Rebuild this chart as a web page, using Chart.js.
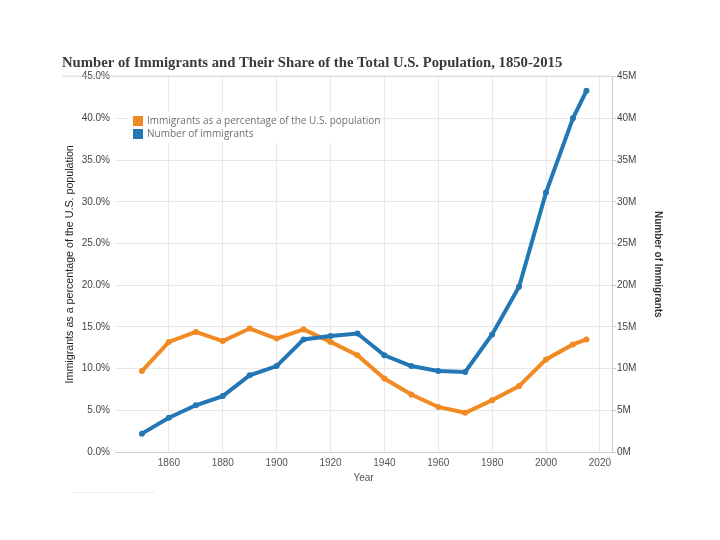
<!DOCTYPE html>
<html>
<head>
<meta charset="utf-8">
<script src="https://cdn.jsdelivr.net/npm/chart.js@4"></script>
<style>
  html, body { margin: 0; padding: 0; background: #fff; }
  #wrap { width: 720px; height: 540px; }
</style>
</head>
<body>
<div id="wrap"><canvas id="myChart" width="720" height="540"></canvas></div>
<script>
const years = [1850, 1860, 1870, 1880, 1890, 1900, 1910, 1920, 1930, 1940, 1950, 1960, 1970, 1980, 1990, 2000, 2010, 2015];
// share of total population, %
const pctValues = [9.7, 13.2, 14.4, 13.3, 14.8, 13.6, 14.7, 13.2, 11.6, 8.8, 6.9, 5.4, 4.7, 6.2, 7.9, 11.1, 12.9, 13.5];
// number of immigrants, millions
const countValues = [2.2, 4.1, 5.6, 6.7, 9.2, 10.3, 13.5, 13.9, 14.2, 11.6, 10.3, 9.7, 9.6, 14.1, 19.8, 31.1, 40.0, 43.3];
const yearTicks = [1860, 1880, 1900, 1920, 1940, 1960, 1980, 2000, 2020];

const ORANGE = '#f28a24';
const BLUE = '#2277b4';

const toPoints = (vals) => years.map((y, i) => ({x: y, y: vals[i]}));

// title underline + small footer rule
const decor = {
  id: 'decor',
  afterDraw(chart) {
    const ctx = chart.ctx;
    ctx.save();
    ctx.strokeStyle = '#d6d6d6';
    ctx.lineWidth = 1;
    ctx.beginPath();
    ctx.moveTo(62, chart.chartArea.top - 0.5);
    ctx.lineTo(chart.chartArea.right, chart.chartArea.top - 0.5);
    ctx.stroke();
    ctx.strokeStyle = '#eeeeee';
    ctx.beginPath();
    ctx.moveTo(72, 492.5);
    ctx.lineTo(155, 492.5);
    ctx.stroke();
    ctx.restore();
  }
};

// legend box inside the plot, orange first
const boxLegend = {
  id: 'boxLegend',
  afterDraw(chart) {
    const ctx = chart.ctx;
    const items = [chart.data.datasets[0], chart.data.datasets[1]];
    ctx.save();
    ctx.fillStyle = '#ffffff';
    ctx.fillRect(128, 112, 246, 31);
    ctx.font = '10px "Open Sans"';
    ctx.textBaseline = 'middle';
    items.forEach((ds, i) => {
      const cy = 121 + i * 13;
      ctx.fillStyle = ds.borderColor;
      ctx.fillRect(133, cy - 5, 10, 10);
      ctx.fillStyle = '#707070';
      ctx.fillText(ds.label, 147, cy);
    });
    ctx.restore();
  }
};

const data = {
  datasets: [
    {
      label: 'Immigrants as a percentage of the U.S. population',
      data: toPoints(pctValues),
      yAxisID: 'y',
      borderColor: ORANGE,
      backgroundColor: ORANGE,
      borderWidth: 4,
      pointRadius: 3,
      pointBorderWidth: 0,
      order: 1
    },
    {
      label: 'Number of immigrants',
      data: toPoints(countValues),
      yAxisID: 'y1',
      borderColor: BLUE,
      backgroundColor: BLUE,
      borderWidth: 4,
      pointRadius: 3,
      pointBorderWidth: 0,
      order: 0
    }
  ]
};

const config = {
  type: 'line',
  data: data,
  plugins: [decor, boxLegend],
  options: {
    responsive: false,
    animation: false,
    layout: {
      padding: {left: 62, right: 56, top: 50, bottom: 56}
    },
    plugins: {
      legend: {display: false},
      tooltip: {enabled: false},
      title: {
        display: true,
        text: 'Number of Immigrants and Their Share of the Total U.S. Population, 1850-2015',
        align: 'start',
        color: '#3a3a3a',
        font: {family: '"Liberation Serif"', size: 14.7, weight: 'bold'},
        padding: {top: 4, bottom: 5}
      }
    },
    scales: {
      x: {
        type: 'linear',
        min: 1840,
        max: 2024.5,
        afterBuildTicks: (scale) => {
          scale.ticks = yearTicks.map(v => ({value: v}));
        },
        afterFit: (scale) => { scale.height = 32; },
        grid: {color: '#e8e8e8', drawTicks: false},
        border: {display: true, color: '#cccccc'},
        ticks: {
          color: '#555555',
          padding: 5,
          font: {family: '"Liberation Sans"', size: 10},
          callback: (v) => String(v)
        },
        title: {
          display: true,
          text: 'Year',
          color: '#555555',
          padding: 0,
          font: {family: '"Liberation Sans"', size: 10}
        }
      },
      y: {
        position: 'left',
        min: 0,
        max: 45,
        afterFit: (scale) => { scale.width = 53; },
        grid: {color: '#e8e8e8', drawTicks: false},
        border: {display: false},
        ticks: {
          stepSize: 5,
          color: '#444444',
          padding: 5,
          font: {family: '"Liberation Sans"', size: 10},
          callback: (v) => v.toFixed(1) + '%'
        },
        title: {
          display: true,
          text: 'Immigrants as a percentage of the U.S. population',
          color: '#1a1a1a',
          padding: {top: 2, bottom: 0},
          font: {family: '"Liberation Sans"', size: 10.7}
        }
      },
      y1: {
        position: 'right',
        min: 0,
        max: 45,
        afterFit: (scale) => { scale.width = 52; },
        grid: {drawOnChartArea: false, color: '#cccccc', tickLength: 4},
        border: {display: true, color: '#cccccc'},
        ticks: {
          stepSize: 5,
          color: '#444444',
          padding: 1,
          font: {family: '"Liberation Sans"', size: 10},
          callback: (v) => v + 'M'
        },
        title: {
          display: true,
          text: 'Number of Immigrants',
          color: '#333333',
          padding: 0,
          font: {family: '"Liberation Sans"', size: 10, weight: 'bold'}
        }
      }
    }
  }
};

const myChart = new Chart(document.getElementById('myChart'), config);
</script>
</body>
</html>
